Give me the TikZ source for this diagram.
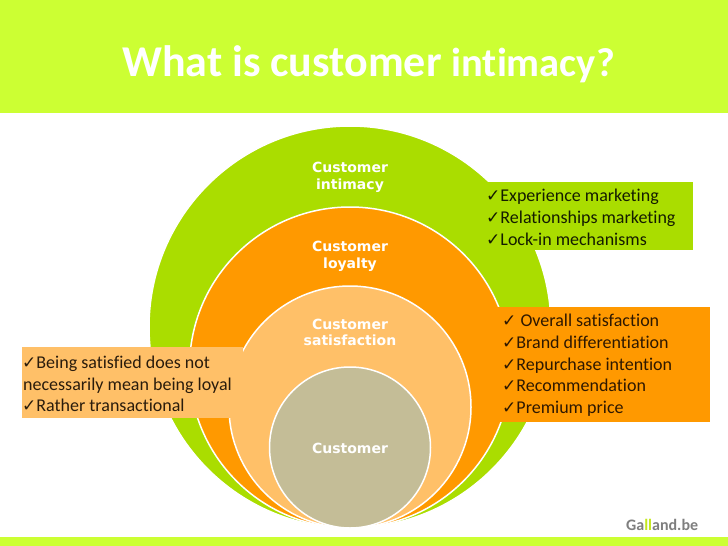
\documentclass[tikz,border=0pt]{standalone}
\usepackage{fontspec}
\setmainfont[Ligatures=NoCommon]{Carlito}
\newfontfamily\dv{DejaVu Sans}
\definecolor{hdr}{HTML}{CCFF33}
\definecolor{limec}{HTML}{AADD00}
\definecolor{orgc}{HTML}{FF9900}
\definecolor{lorgc}{HTML}{FFC068}
\definecolor{tanc}{HTML}{C4BD97}
\definecolor{gtxt}{HTML}{141C00}
\definecolor{otxt}{HTML}{2E1800}
\definecolor{ltxt}{HTML}{2A1C0C}
\definecolor{greyc}{HTML}{7F7F7F}
\definecolor{llc}{HTML}{C4E81E}
\newcommand{\ck}{{\dv\fontsize{17}{17}\selectfont ✓}}
\tikzset{
  ring/.style={circle, draw=white, line width=1.5pt, inner sep=0pt, outer sep=0pt},
  panel/.style={rectangle, draw=none, inner sep=0pt, outer sep=0pt, anchor=north west},
  clabel/.style={anchor=base, inner sep=0pt, text=white, font=\dv\bfseries\fontsize{14}{17}\selectfont},
  bline/.style={anchor=base west, inner sep=0pt, font=\fontsize{18}{21.6}\selectfont},
}
\begin{document}
\begin{tikzpicture}[x=1pt,y=-1pt]
\useasboundingbox (0,0) rectangle (728,546);
\fill[white] (0,0) rectangle (728,546);
\fill[hdr] (0,0) rectangle (728,113);
\fill[hdr] (0,537) rectangle (728,546);

\node[anchor=base west, inner sep=0pt, text=white] (title) at (122,76)
  {\fontsize{44}{50}\selectfont\bfseries What is customer \fontsize{40.5}{48}\selectfont intimacy?};

% circles and panels
\node[ring, fill=limec, minimum size=402pt] (c1) at (350,327) {};
\node[panel, fill=limec, minimum width=210pt, minimum height=68pt] (gbox) at (483,182) {};
\node[ring, fill=orgc, minimum size=321pt] (c2) at (350,367.5) {};
\node[panel, fill=orgc, minimum width=213pt, minimum height=115pt] (obox) at (497,307) {};
\node[ring, fill=lorgc, minimum size=242pt] (c3) at (350,407) {};
\node[panel, fill=lorgc, minimum width=221pt, minimum height=71pt] (lbox) at (22,347) {};
\node[ring, fill=tanc, minimum size=161pt] (c4) at (350,447.5) {};

% circle labels
\node[clabel] (l1a) at (350,172.3) {Customer};
\node[clabel] (l1b) at (350,189.3) {intimacy};
\node[clabel] (l2a) at (350,251.7) {Customer};
\node[clabel] (l2b) at (350,268.3) {loyalty};
\node[clabel] (l3a) at (350,329.3) {Customer};
\node[clabel] (l3b) at (350,345.7) {satisfaction};
\node[clabel] (l4) at (350,453.3) {Customer};

% green panel text
\node[bline, text=gtxt] (g1) at (486,201.7) {\ck Experience marketing};
\node[bline, text=gtxt] (g2) at (486,223.3) {\ck Relationships marketing};
\node[bline, text=gtxt] (g3) at (486,245) {\ck Lock-in mechanisms};

% orange panel text
\node[bline, text=otxt] (o1) at (502,326.7) {\ck{} Overall satisfaction};
\node[bline, text=otxt] (o2) at (502,348.3) {\ck Brand differentiation};
\node[bline, text=otxt] (o3) at (502,370) {\ck Repurchase intention};
\node[bline, text=otxt] (o4) at (502,391.7) {\ck Recommendation};
\node[bline, text=otxt] (o5) at (502,413.3) {\ck Premium price};

% left panel text
\node[bline, text=ltxt] (t1) at (22,368.3) {\ck Being satisfied does not};
\node[bline, text=ltxt] (t2) at (23,390) {necessarily mean being loyal};
\node[bline, text=ltxt] (t3) at (22,411.7) {\ck Rather transactional};

% logo
\node[anchor=base west, inner sep=0pt, text=greyc, font=\fontsize{16}{19}\selectfont\bfseries] (logo) at (626,530)
  {Ga\textcolor{llc}{ll}and.be};
\end{tikzpicture}
\end{document}
